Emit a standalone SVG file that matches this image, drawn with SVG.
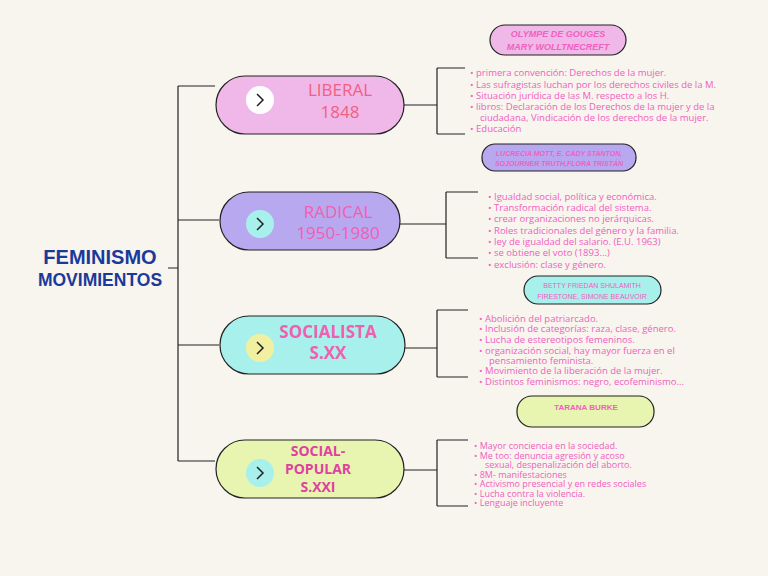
<svg xmlns="http://www.w3.org/2000/svg" width="768" height="576" viewBox="0 0 768 576">
<style>
.n{stroke:#222;stroke-width:1.2}
.c{stroke:#222;stroke-width:1.2;fill:none}
.v{stroke:#222;stroke-width:1.5;fill:none}
.t{font-family:"Open Sans","Liberation Sans",sans-serif;font-size:17px;text-anchor:middle}
.b{font-family:"Open Sans","Liberation Sans",sans-serif;font-size:9.5px;fill:#f060c0}
.s{font-size:9px}
.p{font-family:"Liberation Sans",sans-serif;font-weight:bold;font-style:italic;fill:#f060c0;text-anchor:middle}
.q{font-family:"Liberation Sans",sans-serif;fill:#f060c0;text-anchor:middle}
</style>
<rect width="768" height="576" fill="#f8f4ee"/>
<g id="connectors" class="c">
<path d="M168 268H178M178 86V461M178 86H215M178 220H219M178 345H219M178 461H215"/>
<path d="M404 105H437M437 68V134M437 68H465M437 134H465"/>
<path d="M400 224H446M446 192V258M446 192H478M446 258H478"/>
<path d="M405 348H437M437 310V377M437 310H468M437 377H468"/>
<path d="M404 470H437M437 440V506M437 440H468M437 506H468"/>
</g>
<g id="root"><text x="100" y="264" font-family="Liberation Sans,sans-serif" font-weight="bold" font-size="20" fill="#1a3a9a" text-anchor="middle">FEMINISMO</text><text x="100" y="286" font-family="Liberation Sans,sans-serif" font-weight="bold" font-size="17.5" fill="#1a3a9a" text-anchor="middle">MOVIMIENTOS</text></g>
<g id="liberal"><rect class="n" x="216" y="76" width="188" height="58" rx="29" fill="#f0b8e8"/><circle cx="260" cy="100" r="14" fill="#fff"/><path class="v" d="M257 94L263 100L257 106"/><text class="t" x="340" y="96" fill="#f06080">LIBERAL</text><text class="t" x="340" y="118" fill="#f06080">1848</text></g>
<g id="radical"><rect class="n" x="220" y="192" width="180" height="58" rx="29" fill="#b8a8f0"/><circle cx="260" cy="224" r="14" fill="#a8f0ec"/><path class="v" d="M257 218L263 224L257 230"/><text class="t" x="338" y="218" fill="#f060b0">RADICAL</text><text class="t" x="338" y="239" fill="#f060b0">1950-1980</text></g>
<g id="socialista"><rect class="n" x="220" y="316" width="185" height="58" rx="29" fill="#a8f0ec"/><circle cx="260" cy="348" r="14" fill="#f0f0a0"/><path class="v" d="M257 342L263 348L257 354"/><text class="t" x="328" y="338" fill="#f060b0" font-weight="bold">SOCIALISTA</text><text class="t" x="328" y="359" fill="#f060b0" font-weight="bold">S.XX</text></g>
<g id="socialpopular"><rect class="n" x="216" y="440" width="188" height="58" rx="29" fill="#e8f5b0"/><circle cx="260" cy="473" r="14" fill="#a8f0ec"/><path class="v" d="M257 467L263 473L257 479"/><text class="t" x="318" y="456" style="font-size:14px;font-weight:bold" fill="#e040a0">SOCIAL-</text><text class="t" x="318" y="474" style="font-size:14px;font-weight:bold" fill="#e040a0">POPULAR</text><text class="t" x="318" y="492" style="font-size:14px;font-weight:bold" fill="#e040a0">S.XXI</text></g>
<g id="olympe"><rect class="n" x="490" y="25" width="136" height="30" rx="15" fill="#f0b8e8"/><text class="p" x="558" y="37" font-size="9">OLYMPE DE GOUGES</text><text class="p" x="558" y="50" font-size="9">MARY WOLLTNECREFT</text></g>
<g id="lucrecia"><rect class="n" x="482" y="144" width="154" height="27" rx="13" fill="#b8a8f0"/><text class="p" x="559" y="156" font-size="7">LUCRECIA MOTT, E. CADY STANTON,</text><text class="p" x="559" y="166" font-size="7">SOJOURNER TRUTH,FLORA TRISTÁN</text></g>
<g id="betty"><rect class="n" x="524" y="276" width="137" height="28" rx="14" fill="#a8f0ec"/><text class="q" x="592" y="288" font-size="7">BETTY FRIEDAN SHULAMITH</text><text class="q" x="592" y="299" font-size="7">FIRESTONE, SIMONE BEAUVOIR</text></g>
<g id="tarana"><rect class="n" x="517" y="396" width="137" height="31" rx="15" fill="#e8f5b0"/><text class="q" x="586" y="410" font-size="8" font-weight="bold">TARANA BURKE</text></g>
<g id="list1" class="b"><text x="470" y="76">•  primera convención: Derechos de la  mujer.</text><text x="470" y="88">•  Las sufragistas luchan por los derechos civiles de la M.</text><text x="470" y="99">•  Situación jurídica de las M. respecto a los H.</text><text x="470" y="110">•  libros: Declaración de los Derechos de la mujer y de la</text><text x="480" y="121">ciudadana, Vindicación de los derechos de la mujer.</text><text x="470" y="132">•  Educación</text></g>
<g id="list2" class="b"><text x="488" y="200">•  Igualdad social, política y económica.</text><text x="488" y="211">•  Transformación radical del sistema.</text><text x="488" y="222">•   crear organizaciones no jerárquicas.</text><text x="488" y="234">•  Roles tradicionales del género y la familia.</text><text x="488" y="245">•  ley de igualdad del salario. (E.U. 1963)</text><text x="488" y="256">•  se obtiene el voto (1893...)</text><text x="488" y="268">•  exclusión: clase y género.</text></g>
<g id="list3" class="b"><text x="479" y="322">•  Abolición del patriarcado.</text><text x="479" y="332">•  Inclusión de categorías: raza, clase, género.</text><text x="479" y="343">•  Lucha de estereotipos femeninos.</text><text x="479" y="354">•  organización social, hay mayor fuerza en el</text><text x="489" y="364">pensamiento feminista.</text><text x="479" y="374">•  Movimiento de la liberación de la mujer.</text><text x="479" y="385">•  Distintos feminismos: negro, ecofeminismo...</text></g>
<g id="list4" class="b s"><text x="474" y="449">•  Mayor conciencia en la sociedad.</text><text x="474" y="458.5">•  Me too: denuncia agresión y acoso</text><text x="485" y="468">sexual, despenalización del aborto.</text><text x="474" y="477.5">•  8M- manifestaciones</text><text x="474" y="487">•  Activismo presencial y en redes sociales</text><text x="474" y="496.5">•  Lucha contra la violencia.</text><text x="474" y="506">•  Lenguaje incluyente</text></g>
</svg>
